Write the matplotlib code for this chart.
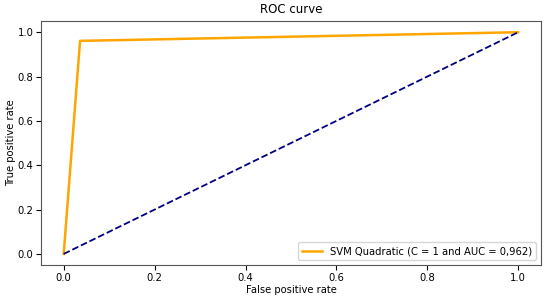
import matplotlib
matplotlib.use("Agg")
import matplotlib.pyplot as plt

fpr = [0.0, 0.036, 1.0]
tpr = [0.0, 0.961, 1.0]
diag = [0.0, 1.0]
label = "SVM Quadratic (C = 1 and AUC = 0,962)"

plt.rcParams["font.size"] = 7.2

fig = plt.figure(figsize=(5.5, 3.02), dpi=100)
ax = fig.add_axes([0.0745, 0.1225, 0.909, 0.8075])

ax.plot(fpr, tpr, color="orange", lw=1.8, label=label)
ax.plot(diag, diag, color="navy", lw=1.3, linestyle="--")

ax.set_title("ROC curve", fontsize=8.5)
ax.set_xlabel("False positive rate", labelpad=2)
ax.set_ylabel("True positive rate", labelpad=1)
ax.tick_params(labelsize=7.2, pad=2)
ax.legend(loc="lower right", fontsize=7.2)

for s in ax.spines.values():
    s.set_color("#555555")

fig.savefig("out.png", dpi=100)
